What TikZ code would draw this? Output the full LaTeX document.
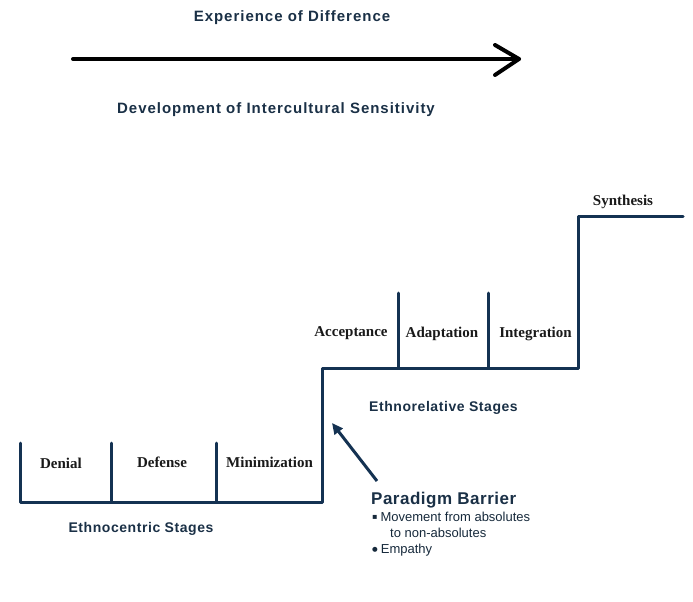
\documentclass[tikz,border=0pt]{standalone}
\usepackage{fontspec}
\setmainfont{Liberation Serif}
\setsansfont{Liberation Sans}
\newfontfamily\headfont[LetterSpace=6.5]{Liberation Sans}
\newfontfamily\stagefont[LetterSpace=4]{Liberation Sans}
\newfontfamily\barrierfont[LetterSpace=3]{Liberation Sans}
\newfontfamily\bodyfont{Liberation Sans}
\newfontfamily\symfont{DejaVu Sans}
\usetikzlibrary{arrows.meta}
\definecolor{navy}{RGB}{20,50,82}
\definecolor{navytext}{RGB}{26,48,70}
\tikzset{
  stair/.style={draw=navy, line width=3pt, line cap=round, line join=round},
  stagelabel/.style={anchor=base, inner sep=0pt, font=\fontsize{15}{18}\selectfont\bfseries, text=black!90},
  headlabel/.style={anchor=base, inner sep=0pt, font=\fontsize{15}{18}\selectfont\headfont\bfseries, text=navytext},
  grouplabel/.style={anchor=base, inner sep=0pt, font=\fontsize{14}{17}\selectfont\stagefont\bfseries, text=navytext},
  barrierlabel/.style={anchor=base west, inner sep=0pt, font=\fontsize{17}{20}\selectfont\barrierfont\bfseries, text=navytext},
  bulletlabel/.style={anchor=base west, inner sep=0pt, font=\fontsize{13}{15}\selectfont\bodyfont, text=navytext!85!black},
}
\begin{document}
\begin{tikzpicture}[x=1pt,y=-1pt]
\useasboundingbox (0,0) rectangle (693,602);
% top arrow
\node[headlabel] (exp) at (292,22) {Experience of Difference};
\coordinate (aStart) at (73,59);
\coordinate (aEnd) at (519,59);
\draw[line width=4pt, line cap=round, line join=round] (aStart) -- (aEnd);
\draw[line width=4pt, line cap=round, line join=round]
  ([shift={(-24,-14)}]aEnd) -- (aEnd) -- ([shift={(-24,16)}]aEnd);
\node[headlabel] (dev) at (276,113) {Development of Intercultural Sensitivity};
% stairs
\draw[stair] (20,443) -- (20,502) -- (322,502) -- (322,368) -- (578,368) -- (578,216) -- (683,216);
\draw[stair] (111,443) -- (111,502);
\draw[stair] (216,443) -- (216,502);
\draw[stair] (398,293) -- (398,368);
\draw[stair] (488,293) -- (488,368);
% stage labels
\node[stagelabel] (denial) at (61,468) {Denial};
\node[stagelabel] (defense) at (162,467) {Defense};
\node[stagelabel] (minim) at (269.5,467) {Minimization};
\node[stagelabel] (accept) at (351,336) {Acceptance};
\node[stagelabel] (adapt) at (442,337) {Adaptation};
\node[stagelabel] (integ) at (535.5,337) {Integration};
\node[stagelabel] (synth) at (623,205) {Synthesis};
% group labels
\node[grouplabel] (ethnoc) at (141,532) {Ethnocentric Stages};
\node[grouplabel] (ethnor) at (443.5,411) {Ethnorelative Stages};
% paradigm barrier
\node[barrierlabel] (pb) at (371,504) {Paradigm Barrier};
\node[bulletlabel] (b1) at (372,521) {\raisebox{2pt}{\symfont\fontsize{8}{9}\selectfont ▪}\hspace{3pt}Movement from absolutes};
\node[bulletlabel] (b1b) at (390,537) {to non-absolutes};
\node[bulletlabel] (b2) at (372,553) {\raisebox{1.5pt}{\symfont\fontsize{6.5}{8}\selectfont ●}\hspace{3pt}Empathy};
\coordinate (pbTail) at (377,481);
\coordinate (pbTip) at (332,423);
\draw[draw=navy, line width=3pt, -{Triangle[length=11pt,width=10pt,fill=navy]}] (pbTail) -- (pbTip);
\end{tikzpicture}
\end{document}
